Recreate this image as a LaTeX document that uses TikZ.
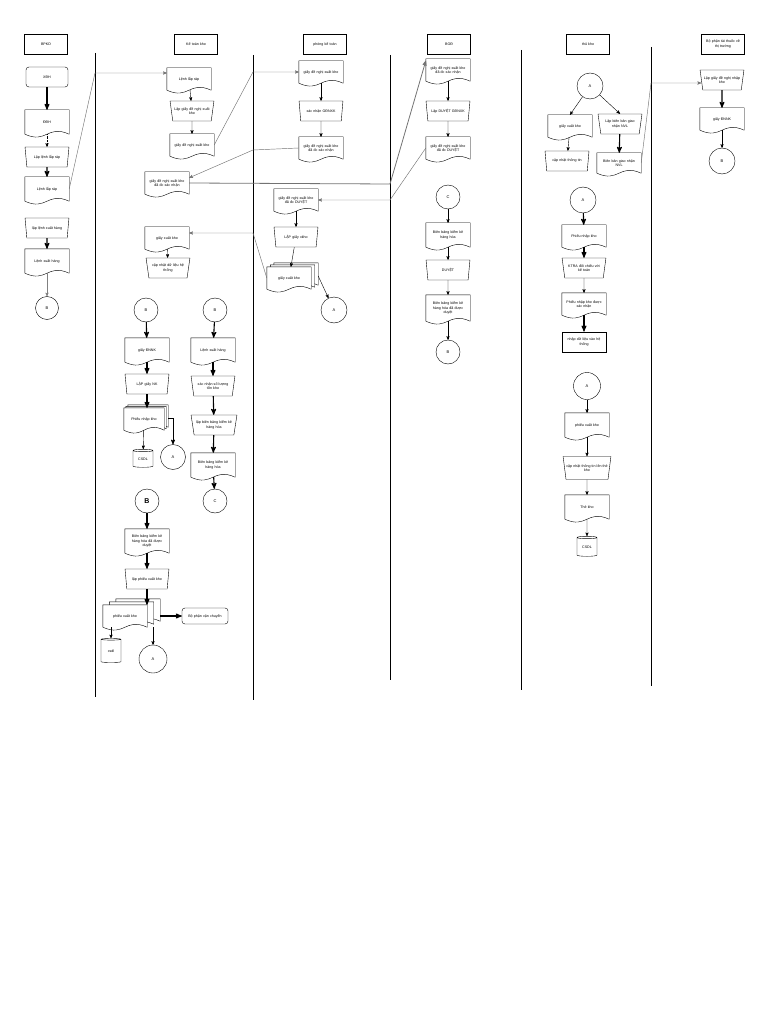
\documentclass[tikz,border=0pt]{standalone}
\usepackage{fontspec}
\setmainfont{Liberation Sans}
\usetikzlibrary{arrows,shapes,calc}
\pgfdeclarelayer{background}
\pgfsetlayers{background,main}

% document outline (node, x offset, y offset)
\newcommand\docoutline[3]{%
  \begin{pgfonlayer}{background}%
    \filldraw[fill=white,draw=black,line width=0.4pt]
      ($(#1.north west)+(#2,#3)$) -- ($(#1.north east)+(#2,#3)$)
      -- ($(#1.south east)+(#2,#3)$)
      .. controls ($(#1.south)+(#2,#3)+(0pt,10pt)$) and ($(#1.south)+(#2,#3)+(0pt,-10pt)$)
      .. ($(#1.south west)+(#2,#3)$) -- cycle;
  \end{pgfonlayer}}

\begin{document}
\begin{tikzpicture}[x=1pt,y=-1pt,>=stealth',font=\fontsize{3.6}{4.2}\selectfont]
  \tikzset{
    hdr/.style={draw,line width=0.9pt,minimum width=43pt,minimum height=20pt,text width=40pt,inner sep=1pt,align=center},
    rbox/.style={draw,rounded corners=3pt,minimum width=42pt,minimum height=20pt,text width=40pt,inner sep=1pt,align=center},
    pbox/.style={draw,line width=0.9pt,minimum width=44pt,minimum height=20pt,text width=42pt,inner sep=1pt,align=center},
    docbase/.style={minimum width=44pt,minimum height=22pt,text width=42pt,inner sep=1pt,align=center},
    doc/.style={docbase,append after command={\pgfextra{\docoutline{\tikzlastnode}{0pt}{0pt}}}},
    multidoc/.style 2 args={docbase,append after command={\pgfextra{%
      \docoutline{\tikzlastnode}{2*#1}{2*#2}%
      \docoutline{\tikzlastnode}{#1}{#2}%
      \docoutline{\tikzlastnode}{0pt}{0pt}}}},
    manop/.style={trapezium,draw,shape border rotate=180,trapezium left angle=75,trapezium right angle=75,
      trapezium stretches=true,minimum width=44pt,minimum height=20pt,text width=46pt,
      inner xsep=-6pt,inner ysep=1pt,align=center},
    conn/.style={circle,draw,minimum size=24pt,inner sep=0pt,font=\fontsize{4}{5}\selectfont},
    db/.style={cylinder,shape border rotate=90,aspect=0.25,draw,minimum width=20pt,minimum height=20pt,inner sep=0pt},
    arr/.style={->,line width=0.4pt},
    arrb/.style={->,line width=1.1pt},
    xlane/.style={->,draw=black!55,line width=0.45pt},
    lane/.style={line width=1pt}
  }
  \useasboundingbox (0,0) rectangle (768,1024);

  % swim lanes
  \draw[lane] (95,53) -- (95,697);
  \draw[lane] (253,55) -- (253,700);
  \draw[lane] (390,55) -- (390,680);
  \draw[lane] (521,50) -- (521,690);
  \draw[lane] (651,47) -- (651,686);

  % BPKD
  \node[hdr] (hbpkd) at (46,44) {BPKD};
  \node[rbox] (xdh) at (47,77) {XĐH};
  \node[doc,minimum height=24pt] (ddh) at (47,122) {ĐĐH};
  \node[manop] (lapllr) at (47,157) {Lập lệnh lắp ráp};
  \node[doc,minimum height=24pt] (lenhlr) at (47,189) {Lệnh lắp ráp};
  \node[manop] (lapxh) at (47,228) {lập lệnh xuất hàng};
  \node[doc,minimum height=24pt] (lenhxh) at (47,261) {Lệnh xuất hàng};
  \node[conn,minimum size=23pt] (bpkdB) at (47,308) {B};
  \draw[arrb] (xdh) -- (ddh);
  \draw[arr,densely dotted] (ddh) -- (lapllr);
  \draw[arrb] (lapllr) -- (lenhlr);
  \draw[arrb] (lapxh) -- (lenhxh);
  \draw[arr,gray] (lenhxh) -- (bpkdB);

  % Ke toan kho
  \node[hdr] (hkt) at (196,44) {Kế toán kho};
  \node[doc] (ktlr) at (189,79) {Lệnh lắp ráp};
  \node[manop] (ktlapgd) at (192,111) {Lập giấy đề nghị xuất\\kho};
  \node[doc] (ktgd) at (192,145) {giấy đề nghị xuất kho};
  \node[doc] (ktgdxn) at (167,183) {giấy đề nghị xuất kho\\đã đc xác nhận};
  \node[doc] (ktgxk) at (167,238) {giấy xuất kho};
  \node[manop] (ktcn) at (168,268) {cập nhật dữ liệu hệ\\thống};
  \draw[arr] (ktlr) -- (ktlapgd);
  \draw[arr] (ktlapgd) -- (ktgd);
  \draw[arr] (ktgxk) -- (ktcn);

  \node[conn] (ktB1) at (146,310) {B};
  \node[doc,minimum height=24pt] (ktdnnk) at (147,350) {giấy ĐNNK};
  \node[manop] (ktlapnk) at (147,384) {LẬP giấy NK};
  \node[multidoc={2pt}{1.5pt},minimum width=40pt,text width=38pt] (ktpnk) at (144,419) {Phiếu nhập kho};
  \node[db,minimum height=18pt] (ktcsdl) at (143,459) {CSDL};
  \node[conn,minimum size=25pt] (ktA) at (173,457) {A};
  \draw[arrb] (ktB1) -- (ktdnnk);
  \draw[arrb] (ktdnnk) -- (ktlapnk);
  \draw[arrb] (ktlapnk.south) -- (ktlapnk.south |- ktpnk.north);
  \draw[arr] (ktpnk) -- (ktcsdl);
  \draw[arr,line width=0.7pt] ([xshift=4pt,yshift=1pt]ktpnk.east) -| (ktA.north);

  \node[conn] (ktB2) at (215,310) {B};
  \node[doc,minimum height=24pt] (ktlxh) at (213,350) {Lệnh xuất hàng};
  \node[manop] (ktxn) at (213,386) {xác nhận số lượng\\tồn kho};
  \node[manop,minimum width=46pt] (ktlapbb) at (214,425) {lập biên bảng kiểm kê\\hàng hóa};
  \node[doc,minimum height=24pt] (ktbb) at (213,465) {Biên bảng kiểm kê\\hàng hóa};
  \node[conn] (ktC) at (215,501) {C};
  \draw[arrb] (ktB2) -- (ktlxh);
  \draw[arrb] (ktlxh) -- (ktxn);
  \draw[arrb] (ktxn) -- (ktlapbb);
  \draw[arrb] (ktlapbb) -- (ktbb);
  \draw[arrb] (ktbb) -- (ktC);

  \node[conn,font=\bfseries\fontsize{7}{8}\selectfont] (ktB3) at (147,501) {B};
  \node[doc,minimum height=24pt] (ktbbd) at (147,541) {Biên bảng kiểm kê\\hàng hóa đã được\\duyệt};
  \node[manop] (ktlpx) at (147,579) {lập phiếu xuất kho};
  \node[multidoc={6.5pt}{3pt}] (ktpxk) at (125,616) {phiếu xuất kho};
  \node[rbox,minimum width=46pt,minimum height=16pt,text width=44pt] (ktvc) at (205,616) {Bộ phận vận chuyển};
  \node[db,minimum height=24pt] (ktcsdl2) at (111,651) {csdl};
  \node[conn,minimum size=28pt] (ktA2) at (153,659) {A};
  \draw[arrb] (ktB3) -- (ktbbd);
  \draw[arrb] (ktbbd) -- (ktlpx);
  \draw[arrb] (ktlpx.south) -- (ktlpx.south |- ktpxk.north);
  \draw[arrb] ([xshift=13pt]ktpxk.east) -- (ktvc.west);
  \draw[arr] (ktcsdl2.north |- ktpxk.south) -- (ktcsdl2.north);
  \draw[arr] (ktA2.north |- ktpxk.south) -- (ktA2.north);

  % phong ke toan
  \node[hdr] (hpk) at (325,44) {phòng kế toán};
  \node[doc] (pkgd) at (321,72) {giấy đề nghị xuất kho};
  \node[manop] (pkxn) at (321,111) {xác nhận GĐNXK};
  \node[doc] (pkgdxn) at (321,148) {giấy đề nghị xuất kho\\đã đc xác nhận};
  \node[doc] (pkgdd) at (296,200) {giấy đề nghị xuất kho\\đã đc DUYỆT};
  \node[manop] (pklap) at (296,237) {LẬP giấy xkho};
  \node[multidoc={3.5pt}{2pt}] (pkgxk) at (289,278) {giấy xuất kho};
  \node[conn,minimum size=26pt] (pkA) at (334,310) {A};
  \draw[arr] (pkgd) -- (pkxn);
  \draw[arr] (pkxn) -- (pkgdxn);
  \draw[arr] (pkgdd) -- (pklap);
  \draw[arr] (pklap) -- (pkgxk);
  \draw[arr] ([xshift=7pt,yshift=2pt]pkgxk.east) -- (pkA);

  % BGD
  \node[hdr] (hbgd) at (449,44) {BGĐ};
  \node[doc] (bgxn) at (448,70) {giấy đề nghị xuất kho\\đã đc xác nhận};
  \node[manop] (bglap) at (448,111) {Lập DUYỆT GĐNXK};
  \node[doc] (bgdd) at (448,148) {giấy đề nghị xuất kho\\đã đc DUYỆT};
  \node[conn] (bgC) at (448,197) {C};
  \node[doc,minimum height=24pt] (bgbb) at (448,235) {Biên bảng kiểm kê\\hàng hóa};
  \node[manop] (bgduyet) at (448,270) {DUYỆT};
  \node[doc,minimum height=26pt] (bgbbd) at (448,308) {Biên bảng kiểm kê\\hàng hóa đã được\\duyệt};
  \node[conn] (bgB) at (448,352) {B};
  \draw[arr] (bgxn) -- (bglap);
  \draw[arr] (bglap) -- (bgdd);
  \draw[arr] (bgC) -- (bgbb);
  \draw[arr] (bgbb) -- (bgduyet);
  \draw[arr] (bgduyet) -- (bgbbd);
  \draw[arr] (bgbbd) -- (bgB);

  % thu kho
  \node[hdr] (htk) at (588,44) {thủ kho};
  \node[conn,minimum size=26pt] (tkA1) at (590,86) {A};
  \node[doc] (tkgxk) at (570,126) {giấy xuất kho};
  \node[manop] (tklapbb) at (620,124) {Lập biên bản giao\\nhận NVL};
  \node[manop] (tkcn) at (567,161) {cập nhật thông tin};
  \node[doc,minimum height=20pt] (tkbb) at (619,163) {Biên bản giao nhận\\NVL};
  \node[conn,minimum size=26pt] (tkA2) at (583,200) {A};
  \node[doc] (tkpnk) at (584,236) {Phiếu nhập kho};
  \node[manop] (tkktra) at (584,268) {KTRA đối chiếu với\\kế toán};
  \node[doc] (tkpnkxn) at (584,304) {Phiếu nhập kho được\\xác nhận};
  \node[pbox] (tknhap) at (584,342) {nhập dữ liệu vào hệ\\thống};
  \draw[arr] (tkA1) -- (tkgxk.north);
  \draw[arr] (tkA1) -- (tklapbb.north);
  \draw[arrb] (tklapbb) -- (tkbb);
  \draw[arr] (tkgxk) -- (tkcn);
  \draw[arrb] (tkA2) -- (tkpnk);
  \draw[arrb] (tkpnk) -- (tkktra);
  \draw[arr] (tkktra) -- (tkpnkxn);
  \draw[arrb] (tkpnkxn) -- (tknhap);

  \node[conn,minimum size=27pt] (tkA3) at (587,386) {A};
  \node[doc,minimum height=24pt] (tkpxk) at (587,425) {phiếu xuất kho};
  \node[manop,minimum width=48pt,minimum height=23pt] (tkcnthe) at (587,468) {cập nhật thông tin lên thẻ\\kho};
  \node[doc,minimum height=24pt] (tkthe) at (587,507) {Thẻ kho};
  \node[db] (tkcsdl) at (587,547) {CSDL};
  \draw[arr] (tkA3) -- (tkpxk);
  \draw[arr] (tkpxk) -- (tkcnthe);
  \draw[arr] (tkcnthe) -- (tkthe);
  \draw[arr] (tkthe) -- (tkcsdl);

  % bo phan tai thuoc ve thi truong
  \node[hdr] (hbp) at (723,44) {Bộ phận tài thuốc về\\thị trường};
  \node[manop] (bplap) at (722,80) {Lập giấy đề nghị nhập\\kho};
  \node[doc] (bpdnnk) at (722,119) {giấy ĐNNK};
  \node[conn,minimum size=26pt] (bpB) at (722,161) {B};
  \draw[arrb] (bplap) -- (bpdnnk);
  \draw[arr] (bpdnnk) -- (bpB);

  % between lanes
  \draw[xlane] (lenhlr.east) -- (95,73) -- ([yshift=6pt]ktlr.west);
  \draw[xlane] (ktgd.east) -- (253,72) -- (pkgd.west);
  \draw[xlane] (pkgdxn.west) -- (253,150) -- ([yshift=-6pt]ktgdxn.north east);
  \draw[xlane,line width=0.8pt] (ktgdxn.east) -- (390,184) -- ([yshift=-2pt]bgxn.north west);
  \draw[xlane] (bgdd.west) -- (390,200) -- (pkgdd.east);
  \draw[xlane] (pkgxk.west) -- (253,233) -- ([yshift=5pt]ktgxk.east);
  \draw[xlane] (tkbb.east) -- (651,83) -- ([yshift=-3pt]bplap.west);
\end{tikzpicture}
\end{document}
